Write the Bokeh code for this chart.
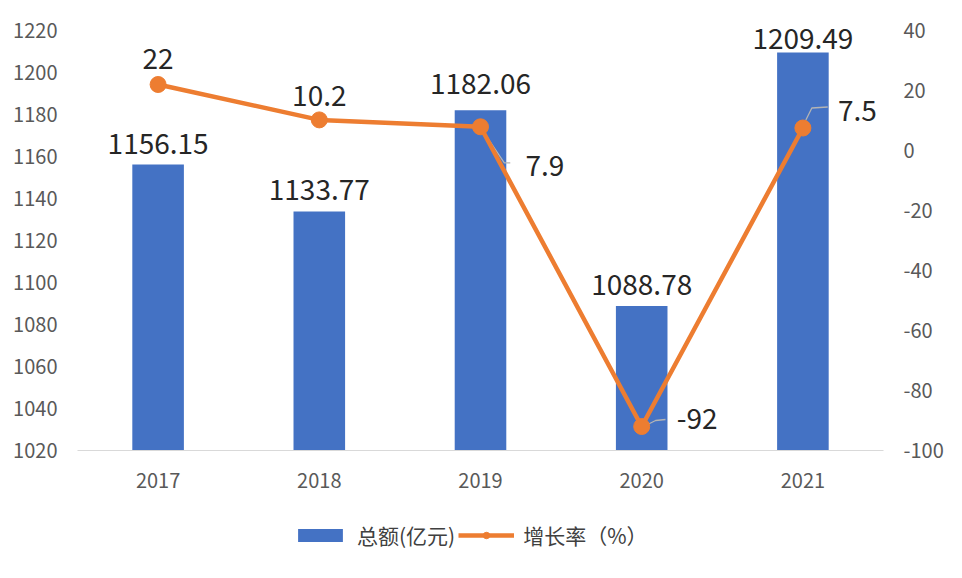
from bokeh.plotting import figure
from bokeh.layouts import column
from bokeh.models import (ColumnDataSource, Range1d, LinearAxis, SingleIntervalTicker,
                          Legend, LegendItem, FactorRange, CustomJSTickFormatter)
from bokeh.core.properties import value
from bokeh.embed import file_html
from bokeh.resources import INLINE

# ---- data ----
years = ["2017", "2018", "2019", "2020", "2021"]
totals = [1156.15, 1133.77, 1182.06, 1088.78, 1209.49]
growth = [22, 10.2, 7.9, -92, 7.5]
total_labels = ["1156.15", "1133.77", "1182.06", "1088.78", "1209.49"]
growth_labels = ["22", "10.2", "7.9", "-92", "7.5"]
series_names = ["总额(亿元)", "增长率（%）"]

# ---- styling ----
FONT = "Noto Sans CJK SC"
BLUE = "#4472C4"
ORANGE = "#ED7D31"
TXT = "#262626"
AX = "#595959"
W, H, H_LEG = 946, 500, 62
FR_L, FR_R, FR_T, FR_B = 77, 57, 6, 50
FRAME_H = H - FR_T - FR_B
L_START, L_PX = 1020, 2.1      # left axis: start value, px per unit
R_START, R_PX = -100, 3.0      # right axis: start value, px per unit
PX_X = (W - FR_L - FR_R) / len(years)      # px per category
bar_label_dy = [-21, -22, -27, -22, -14]
label_dx = [0, 0, 45, 35, 35]
label_dy = [-26, -24, 39, -8, -18]
label_align = ["center", "center", "left", "left", "left"]
# leader lines (px offsets from the point, screen y down); None = no leader
leaders = [None, None,
           [(3, 5), (24, 36), (30, 36)],
           [(6, -2), (14, -6), (24, -7)],
           [(3, -8), (9, -20), (25, -21)]]

p = figure(width=W, height=H, x_range=FactorRange(*years),
           y_range=Range1d(L_START, L_START + FRAME_H / L_PX),
           output_backend="svg", toolbar_location=None,
           min_border_left=FR_L, min_border_right=FR_R,
           min_border_top=FR_T, min_border_bottom=FR_B)
p.x_range.range_padding = 0
p.extra_y_ranges = {"pct": Range1d(R_START, R_START + FRAME_H / R_PX)}
p.outline_line_color = None
p.xgrid.grid_line_color = None
p.ygrid.grid_line_color = None

# axes
p.xaxis.axis_line_color = "#d9d9d9"
p.xaxis.axis_line_width = 1
p.xaxis.major_tick_line_color = None
p.xaxis.minor_tick_line_color = None
p.xaxis.major_label_text_font = FONT
p.xaxis.major_label_text_font_size = "20px"
p.xaxis.major_label_text_color = AX
p.xaxis.major_label_standoff = 16

p.yaxis.ticker = SingleIntervalTicker(interval=20, num_minor_ticks=0)
p.yaxis.axis_line_color = None
p.yaxis.major_tick_line_color = None
p.yaxis.minor_tick_line_color = None
p.yaxis.major_label_text_font = FONT
p.yaxis.major_label_text_font_size = "20px"
p.yaxis.major_label_text_color = AX
p.yaxis.major_label_standoff = 14

ra = LinearAxis(y_range_name="pct", ticker=SingleIntervalTicker(interval=20, num_minor_ticks=0),
                formatter=CustomJSTickFormatter(code="return String(tick);"))
ra.axis_line_color = None
ra.major_tick_line_color = None
ra.minor_tick_line_color = None
ra.major_label_text_font = FONT
ra.major_label_text_font_size = "20px"
ra.major_label_text_color = AX
ra.major_label_standoff = 14
p.add_layout(ra, "right")

src = ColumnDataSource(dict(year=years, total=totals, growth=growth,
                            tlab=total_labels, glab=growth_labels, tdy=bar_label_dy,
                            dx=label_dx, dy=label_dy, al=label_align))

bars = p.vbar(x="year", top="total", width=0.32, source=src, fill_color=BLUE, line_color=None)

p.text(x="year", y="total", text="tlab", source=src, text_align="center",
       text_baseline="middle", y_offset="tdy", text_font=value(FONT),
       text_font_size="28px", text_color=TXT)

# leader lines
lx, ly = [], []
for i, ld in enumerate(leaders):
    if ld is None:
        continue
    lx.append([i + 0.5 + dx / PX_X for dx, dy in ld])
    ly.append([growth[i] - dy / R_PX for dx, dy in ld])
p.multi_line(xs=lx, ys=ly, y_range_name="pct", line_color="#b4b4b4", line_width=1.3)

line = p.line(x="year", y="growth", source=src, y_range_name="pct",
              line_color=ORANGE, line_width=4.5, line_join="round")
dots = p.scatter(x="year", y="growth", source=src, y_range_name="pct",
                 size=16, fill_color=ORANGE, line_color=ORANGE)

p.text(x="year", y="growth", text="glab", source=src, y_range_name="pct",
       text_align="al", text_baseline="middle", x_offset="dx", y_offset="dy",
       text_font=value(FONT), text_font_size="28px", text_color=TXT)

# ---- legend strip below the chart ----
pl = figure(width=W, height=H_LEG, x_axis_type=None, y_axis_type=None,
            x_range=Range1d(0, 1), y_range=Range1d(0, 1),
            output_backend="svg", toolbar_location=None, min_border=0)
pl.outline_line_color = None
pl.xgrid.grid_line_color = None
pl.ygrid.grid_line_color = None
offscreen = ColumnDataSource(dict(x=[-10], y=[-10]))   # swatch-only renderers, outside view
lb = pl.vbar(x="x", top="y", width=0.1, source=offscreen, fill_color=BLUE, line_color=None)
ll = pl.line(x="x", y="y", source=offscreen, line_color=ORANGE, line_width=4.5)
ls = pl.scatter(x="x", y="y", source=offscreen, size=16, fill_color=ORANGE, line_color=ORANGE)

legend = Legend(items=[LegendItem(label=series_names[0], renderers=[lb]),
                       LegendItem(label=series_names[1], renderers=[ll, ls])],
                orientation="horizontal", location=(215, 12),
                border_line_color=None, background_fill_alpha=0,
                label_text_font=FONT, label_text_font_size="21px", label_text_color="#404040",
                glyph_width=56, glyph_height=16, label_standoff=9, spacing=3,
                padding=0, margin=0)
pl.add_layout(legend)

layout = column(p, pl, spacing=0)
open("out.html", "w").write(file_html(layout, INLINE))
